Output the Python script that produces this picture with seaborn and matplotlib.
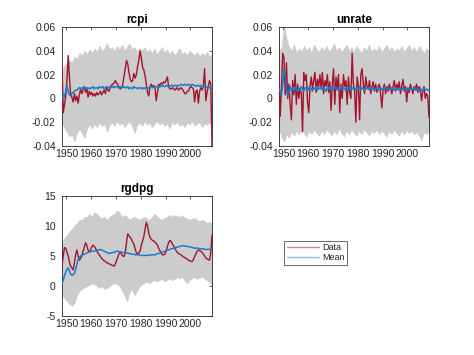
import numpy as np
import pandas as pd
import matplotlib
matplotlib.use("Agg")
import matplotlib.pyplot as plt
from matplotlib.lines import Line2D
import seaborn as sns

# ---------------- data ----------------
t_start, t_end = 1948.25, 2008.75

rcpi_data = [
    0.027, -0.012, -0.005, 0.002, 0.015, 0.036, 0.018, 0.003, 0.001, -0.003,
    0.004, -0.002, 0.002, -0.004, 0.003, 0.008, 0.004, 0.007, 0.010, 0.005,
    0.009, 0.001, 0.006, 0.003, 0.005, 0.002, 0.004, 0.002, 0.005, 0.003,
    0.004, 0.006, 0.003, 0.005, 0.007, 0.004, 0.009, 0.007, 0.006, 0.010,
    0.011, 0.012, 0.013, 0.015, 0.013, 0.012, 0.009, 0.008, 0.009, 0.012,
    0.018, 0.025, 0.032, 0.029, 0.022, 0.016, 0.014, 0.015, 0.021, 0.017,
    0.020, 0.027, 0.032, 0.040, 0.034, 0.026, 0.024, 0.019, 0.012, 0.005,
    0.002, 0.010, 0.012, 0.009, 0.011, 0.009, -0.002, 0.005, 0.012, 0.011,
    0.013, 0.012, 0.014, 0.013, 0.015, 0.018, 0.010, 0.008, 0.008, 0.009,
    0.008, 0.007, 0.008, 0.009, 0.007, 0.008, 0.009, 0.008, 0.006, 0.004,
    0.004, 0.006, 0.006, 0.009, 0.010, 0.009, 0.008, -0.003, 0.006, 0.007,
    -0.004, 0.006, 0.009, 0.007, 0.010, 0.025, -0.002, 0.005, 0.010, 0.015,
    0.012, -0.040,
]
rcpi_mean = [
    0.000, 0.004, 0.001, 0.006, 0.011, 0.006, 0.003, 0.002, 0.004, 0.005,
    0.006, 0.007, 0.007, 0.008, 0.009, 0.008, 0.009, 0.008, 0.010, 0.008,
    0.009, 0.008, 0.009, 0.008, 0.009, 0.010, 0.008, 0.009, 0.009, 0.008,
    0.010, 0.009, 0.009, 0.010, 0.008, 0.009, 0.010, 0.009, 0.009, 0.010,
    0.009, 0.010, 0.009, 0.010, 0.010, 0.009, 0.010, 0.009, 0.010, 0.009,
    0.010, 0.009, 0.009, 0.010, 0.008, 0.009, 0.009, 0.008, 0.010, 0.009,
    0.009, 0.008, 0.009, 0.009, 0.008, 0.009, 0.008, 0.009, 0.008, 0.008,
    0.009, 0.009, 0.010, 0.009, 0.010, 0.009, 0.010, 0.010, 0.009, 0.010,
    0.010, 0.011, 0.010, 0.010, 0.011, 0.010, 0.011, 0.010, 0.011, 0.011,
    0.010, 0.011, 0.011, 0.010, 0.011, 0.011, 0.012, 0.011, 0.011, 0.012,
    0.011, 0.011, 0.012, 0.011, 0.011, 0.012, 0.011, 0.011, 0.010, 0.011,
    0.011, 0.010, 0.011, 0.010, 0.010, 0.011, 0.010, 0.009, 0.010, 0.009,
    0.009, 0.008,
]
rcpi_sim_upper = [
    0.022, 0.028, 0.030, 0.032, 0.030, 0.035, 0.033, 0.038, 0.036, 0.040,
    0.037, 0.041, 0.038, 0.042, 0.039, 0.044, 0.040, 0.042, 0.046, 0.041,
    0.043, 0.040, 0.044, 0.041, 0.045, 0.040, 0.043, 0.046, 0.041, 0.043,
    0.039, 0.042, 0.040, 0.043, 0.039, 0.041, 0.038, 0.042, 0.037, 0.040,
    0.043, 0.038, 0.041, 0.037, 0.040, 0.036, 0.039, 0.042, 0.037, 0.039,
    0.036, 0.040, 0.038, 0.036, 0.039, 0.035, 0.038, 0.036, 0.039, 0.035,
    0.037,
]
rcpi_sim_lower = [
    -0.020, -0.025, -0.028, -0.032, -0.030, -0.036, -0.028, -0.026, -0.029, -0.033,
    -0.025, -0.022, -0.025, -0.021, -0.024, -0.020, -0.023, -0.021, -0.028, -0.022,
    -0.020, -0.023, -0.019, -0.022, -0.020, -0.024, -0.021, -0.019, -0.023, -0.029,
    -0.022, -0.020, -0.023, -0.019, -0.022, -0.020, -0.024, -0.021, -0.019, -0.022,
    -0.020, -0.023, -0.021, -0.025, -0.020, -0.022, -0.019, -0.023, -0.021, -0.024,
    -0.020, -0.022, -0.019, -0.023, -0.021, -0.020, -0.024, -0.021, -0.022, -0.020,
    -0.023,
]

unrate_data = [
    0.018, -0.015, 0.010, 0.038, 0.034, 0.003, 0.030, 0.000, 0.012, -0.005,
    -0.018, 0.015, 0.003, 0.020, -0.005, 0.012, 0.000, 0.008, 0.005, -0.028,
    0.022, 0.015, 0.020, -0.003, -0.012, 0.010, 0.018, 0.008, 0.015, 0.022,
    0.005, 0.016, 0.010, 0.020, 0.008, 0.022, 0.004, 0.015, 0.010, 0.020,
    0.005, 0.014, -0.010, 0.012, 0.025, -0.005, 0.018, 0.008, 0.020, -0.012,
    0.012, 0.000, 0.020, 0.010, 0.015, -0.005, 0.018, 0.005, 0.000, 0.038,
    0.012, 0.006, -0.020, 0.018, 0.010, -0.018, 0.020, 0.025, 0.012, 0.004,
    0.018, 0.010, 0.008, 0.015, 0.004, 0.010, 0.014, 0.006, 0.012, 0.005,
    0.010, 0.012, 0.003, -0.008, 0.008, 0.012, 0.004, 0.010, 0.006, 0.012,
    0.008, 0.004, 0.010, 0.015, 0.006, 0.012, 0.008, 0.014, 0.004, 0.010,
    0.016, 0.006, 0.010, -0.003, 0.008, 0.005, 0.012, 0.008, 0.004, 0.010,
    0.007, 0.012, 0.005, 0.010, 0.008, -0.002, 0.006, 0.010, 0.000, 0.004,
    0.002, -0.016,
]
unrate_mean = [
    0.008, 0.006, 0.003, 0.012, 0.024, 0.020, 0.008, 0.002, 0.006, 0.010,
    0.006, 0.009, 0.007, 0.010, 0.008, 0.006, 0.009, 0.007, 0.010, 0.008,
    0.006, 0.009, 0.008, 0.010, 0.007, 0.009, 0.008, 0.006, 0.009, 0.008,
    0.010, 0.007, 0.009, 0.008, 0.010, 0.007, 0.009, 0.008, 0.006, 0.009,
    0.008, 0.010, 0.007, 0.009, 0.008, 0.010, 0.008, 0.007, 0.009, 0.008,
    0.010, 0.007, 0.009, 0.008, 0.006, 0.009, 0.008, 0.010, 0.007, 0.009,
    0.008, 0.009, 0.007, 0.009, 0.008, 0.010, 0.007, 0.009, 0.008, 0.007,
    0.009, 0.008, 0.009, 0.007, 0.009, 0.008, 0.009, 0.007, 0.008, 0.009,
    0.007, 0.008, 0.009, 0.007, 0.008, 0.009, 0.008, 0.007, 0.009, 0.008,
    0.007, 0.009, 0.008, 0.007, 0.008, 0.009, 0.007, 0.008, 0.008, 0.007,
    0.009, 0.008, 0.007, 0.008, 0.009, 0.007, 0.008, 0.008, 0.007, 0.009,
    0.008, 0.007, 0.008, 0.006, 0.008, 0.007, 0.006, 0.008, 0.007, 0.008,
    0.007, 0.007,
]
unrate_sim_upper = [
    0.040, 0.042, 0.060, 0.050, 0.043, 0.040, 0.045, 0.038, 0.042, 0.039,
    0.044, 0.040, 0.043, 0.038, 0.045, 0.041, 0.039, 0.043, 0.040, 0.044,
    0.039, 0.042, 0.046, 0.040, 0.043, 0.039, 0.042, 0.045, 0.040, 0.043,
    0.039, 0.044, 0.041, 0.038, 0.043, 0.040, 0.045, 0.039, 0.042, 0.040,
    0.044, 0.039, 0.042, 0.045, 0.040, 0.043, 0.039, 0.042, 0.040, 0.044,
    0.039, 0.042, 0.045, 0.040, 0.043, 0.039, 0.044, 0.041, 0.038, 0.042,
    0.040,
]
unrate_sim_lower = [
    -0.025, -0.032, -0.036, -0.030, -0.033, -0.028, -0.031, -0.027, -0.030, -0.026,
    -0.029, -0.032, -0.027, -0.030, -0.026, -0.029, -0.031, -0.027, -0.030, -0.026,
    -0.028, -0.031, -0.027, -0.030, -0.025, -0.029, -0.032, -0.027, -0.030, -0.026,
    -0.029, -0.031, -0.027, -0.030, -0.026, -0.028, -0.031, -0.027, -0.029, -0.026,
    -0.030, -0.027, -0.029, -0.032, -0.027, -0.030, -0.026, -0.029, -0.031, -0.027,
    -0.030, -0.026, -0.029, -0.027, -0.030, -0.028, -0.031, -0.035, -0.028, -0.030,
    -0.027,
]

rgdpg_data = [
    3.2, 5.0, 6.4, 6.3, 5.6, 5.0, 4.0, 3.3, 3.0, 2.7,
    3.8, 5.2, 6.0, 5.0, 4.3, 4.6, 5.0, 5.8, 6.5, 7.2,
    6.8, 6.0, 5.7, 6.0, 6.5, 6.8, 6.6, 6.3, 5.9, 5.5,
    5.2, 4.9, 4.6, 4.4, 4.2, 4.1, 3.9, 3.8, 3.7, 3.6,
    3.5, 3.4, 3.3, 3.7, 4.2, 4.8, 5.4, 5.7, 5.3, 5.0,
    4.9, 5.5, 7.2, 8.7, 8.4, 8.1, 7.8, 7.3, 7.0, 6.2,
    5.5, 5.4, 5.5, 5.8, 6.8, 7.5, 8.2, 9.5, 10.6, 10.0,
    8.8, 8.1, 7.8, 7.6, 7.5, 7.3, 7.1, 6.8, 6.3, 5.9,
    5.5, 5.2, 5.2, 5.3, 5.8, 6.6, 7.2, 7.6, 7.4, 7.0,
    6.7, 6.3, 5.9, 5.6, 5.4, 5.3, 5.2, 5.0, 4.9, 4.7,
    4.6, 4.5, 4.3, 4.2, 4.1, 4.1, 4.4, 4.9, 5.4, 5.8,
    6.0, 5.9, 5.8, 5.6, 5.3, 5.0, 4.7, 4.5, 4.4, 4.3,
    5.5, 8.5,
]
rgdpg_mean = [
    0.4, 1.0, 1.7, 2.3, 2.8, 3.0, 2.5, 2.0, 1.8, 1.9,
    2.1, 2.8, 3.6, 4.4, 4.8, 5.0, 5.1, 5.2, 5.3, 5.4,
    5.5, 5.6, 5.7, 5.7, 5.8, 5.8, 5.8, 5.9, 5.9, 6.0,
    6.0, 6.1, 6.0, 5.9, 5.8, 5.7, 5.6, 5.5, 5.4, 5.5,
    5.5, 5.6, 5.6, 5.7, 5.8, 5.8, 5.7, 5.7, 5.6, 5.6,
    5.6, 5.6, 5.5, 5.5, 5.4, 5.4, 5.3, 5.3, 5.3, 5.2,
    5.2, 5.2, 5.2, 5.1, 5.1, 5.1, 5.1, 5.1, 5.1, 5.1,
    5.1, 5.2, 5.2, 5.2, 5.2, 5.2, 5.3, 5.4, 5.4, 5.5,
    5.6, 5.6, 5.7, 5.8, 5.9, 6.0, 6.0, 6.1, 6.2, 6.2,
    6.3, 6.4, 6.4, 6.5, 6.5, 6.6, 6.7, 6.7, 6.7, 6.7,
    6.6, 6.6, 6.6, 6.5, 6.5, 6.4, 6.4, 6.3, 6.3, 6.3,
    6.3, 6.2, 6.2, 6.2, 6.2, 6.1, 6.1, 6.1, 6.1, 6.1,
    6.1, 6.1,
]
rgdpg_sim_upper = [
    7.0, 8.0, 8.5, 9.0, 9.5, 10.0, 10.5, 11.0, 11.0, 11.5,
    11.5, 12.0, 11.5, 12.3, 12.0, 11.5, 11.3, 11.5, 11.0, 11.5,
    11.8, 12.0, 12.6, 12.2, 11.5, 11.8, 11.5, 11.0, 11.3, 11.5,
    11.2, 11.0, 11.3, 11.5, 11.2, 11.0, 11.5, 12.0, 11.6, 11.2,
    11.0, 11.3, 11.5, 11.8, 11.5, 11.8, 11.6, 11.5, 11.8, 11.4,
    11.2, 11.0, 11.2, 11.3, 11.0, 10.8, 11.0, 10.8, 10.5, 10.7,
    10.3,
]
rgdpg_sim_lower = [
    -1.5, -2.0, -2.5, -3.0, -3.3, -2.8, -1.5, -0.8, -0.5, -0.2,
    0.0, 0.2, 0.5, 0.3, 0.0, -0.3, 0.0, -0.5, -0.3, 0.0,
    0.3, 0.5, 0.3, 0.0, -0.8, -1.5, -2.5, -1.0, -0.5, -1.5,
    -0.8, 0.0, 0.3, 0.5, 0.8, 0.5, 0.8, 1.0, 0.8, 1.0,
    1.2, 0.8, 1.0, 1.3, 1.0, 1.2, 1.5, 1.3, 1.5, 1.0,
    0.5, 1.0, 1.3, 1.5, 1.2, 1.4, 1.6, 1.3, 1.0, 0.8,
    0.0,
]

panel_titles = ["rcpi", "unrate", "rgdpg"]
year_ticks = [1950, 1960, 1970, 1980, 1990, 2000]
rate_ticks = [-0.04, -0.02, 0, 0.02, 0.04, 0.06]
rate_ticklabels = ["-0.04", "-0.02", "0", "0.02", "0.04", "0.06"]
gdp_ticks = [-5, 0, 5, 10, 15]
gdp_ticklabels = ["-5", "0", "5", "10", "15"]
legend_labels = ["Data", "Mean"]

# ---------------- style ----------------
sns.set_style("white")
plt.rcParams["font.family"] = ["Liberation Sans", "DejaVu Sans"]

RED = "#A2142F"
BLUE = "#1F7BC4"
GRAY = "#CCCCCC"
FRAME = "#262626"

fig = plt.figure(figsize=(4.74, 3.55), dpi=100)
W, H = 474, 355
def ax_rect(x0, y0, x1, y1):
    return [x0 / W, 1 - y1 / H, (x1 - x0) / W, (y1 - y0) / H]

axes = [
    fig.add_axes(ax_rect(62, 27, 212, 146)),
    fig.add_axes(ax_rect(279, 27, 429, 146)),
    fig.add_axes(ax_rect(62, 196, 212, 316)),
]

panels = [
    (rcpi_data, rcpi_mean, rcpi_sim_lower, rcpi_sim_upper, (-0.04, 0.06), rate_ticks, rate_ticklabels),
    (unrate_data, unrate_mean, unrate_sim_lower, unrate_sim_upper, (-0.04, 0.06), rate_ticks, rate_ticklabels),
    (rgdpg_data, rgdpg_mean, rgdpg_sim_lower, rgdpg_sim_upper, (-5, 15), gdp_ticks, gdp_ticklabels),
]

for ax, title, (d, m, lo, up, ylim, yt, ytl) in zip(axes, panel_titles, panels):
    t = np.linspace(t_start, t_end, len(d))
    te = np.linspace(t_start, t_end, len(up))
    ax.fill_between(te, lo, up, color=GRAY, lw=0.6, edgecolor=GRAY, zorder=1)
    df = pd.DataFrame({"year": t, "Data": d, "Mean": m})
    sns.lineplot(data=df, x="year", y="Data", ax=ax, color=RED, lw=1.0, zorder=3, legend=False)
    sns.lineplot(data=df, x="year", y="Mean", ax=ax, color=BLUE, lw=1.1, zorder=4, legend=False)
    ax.set_xlim(t_start, t_end)
    ax.set_ylim(*ylim)
    ax.set_xticks(year_ticks)
    ax.set_xticklabels([str(y) for y in year_ticks])
    ax.set_yticks(yt)
    ax.set_yticklabels(ytl)
    ax.set_xlabel("")
    ax.set_ylabel("")
    ax.set_title(title, fontsize=8.5, fontweight="bold", color="black", pad=3)
    ax.tick_params(direction="in", length=2.5, width=0.5, labelsize=7.5,
                   colors=FRAME, top=True, right=True)
    ax.tick_params(axis="x", pad=2.5)
    ax.tick_params(axis="y", pad=4.5)
    for sp in ax.spines.values():
        sp.set_visible(True)
        sp.set_color(FRAME)
        sp.set_linewidth(0.6)
    ax.set_facecolor("white")

handles = [Line2D([], [], color=RED, lw=1.0, alpha=0.5),
           Line2D([], [], color=BLUE, lw=1.0, alpha=0.5)]
leg = fig.legend(handles, legend_labels, loc="lower left",
                 bbox_to_anchor=(284 / W, 1 - 265 / H), fontsize=6.5,
                 frameon=True, fancybox=False, borderpad=0.3, handlelength=3.6,
                 handletextpad=0.3, labelspacing=0.1, borderaxespad=0)
leg.get_frame().set_edgecolor(FRAME)
leg.get_frame().set_linewidth(0.6)

fig.savefig("out.png", dpi=100)
